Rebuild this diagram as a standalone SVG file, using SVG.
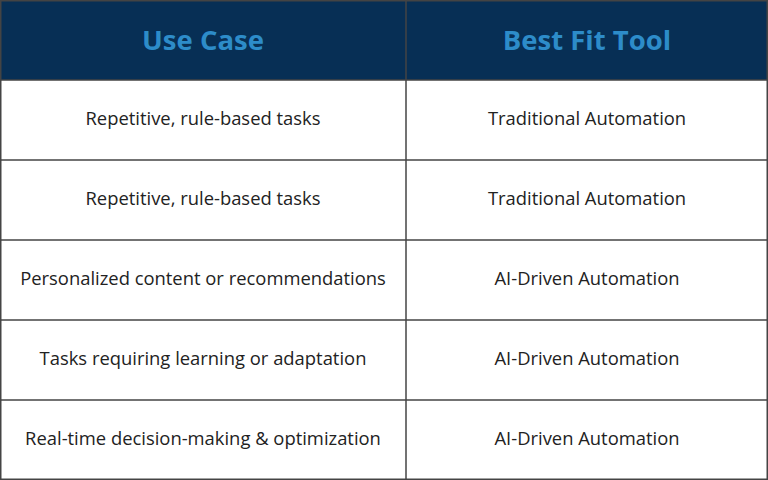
<svg xmlns="http://www.w3.org/2000/svg" width="768" height="480" viewBox="0 0 768 480">
<style>
.h{font-family:"Open Sans","Liberation Sans",sans-serif;font-size:27.5px;font-weight:bold;fill:#2d8cc9;text-anchor:middle}
.t{font-family:"Open Sans","Liberation Sans",sans-serif;font-size:18.4px;fill:#222;text-anchor:middle}
.l{stroke:#444;stroke-width:1.5}
</style>
<rect width="768" height="480" fill="#fff"/>
<rect width="768" height="80" fill="#072f55"/>
<g id="header"><text class="h" x="203" y="50">Use Case</text><text class="h" x="587" y="50">Best Fit Tool</text></g>
<g id="connectors">
<line class="l" x1="0" y1="80" x2="768" y2="80"/>
<line class="l" x1="0" y1="160" x2="768" y2="160"/>
<line class="l" x1="0" y1="240" x2="768" y2="240"/>
<line class="l" x1="0" y1="320" x2="768" y2="320"/>
<line class="l" x1="0" y1="400" x2="768" y2="400"/>
<line class="l" x1="406" y1="0" x2="406" y2="480"/>
<rect x="0.75" y="0.75" width="766.5" height="478.5" fill="none" stroke="#444" stroke-width="1.5"/>
</g>
<g id="row1"><text class="t" x="203" y="125">Repetitive, rule-based tasks</text><text class="t" x="587" y="125">Traditional Automation</text></g>
<g id="row2"><text class="t" x="203" y="205">Repetitive, rule-based tasks</text><text class="t" x="587" y="205">Traditional Automation</text></g>
<g id="row3"><text class="t" x="203" y="285">Personalized content or recommendations</text><text class="t" x="587" y="285">AI-Driven Automation</text></g>
<g id="row4"><text class="t" x="203" y="365">Tasks requiring learning or adaptation</text><text class="t" x="587" y="365">AI-Driven Automation</text></g>
<g id="row5"><text class="t" x="203" y="445">Real-time decision-making &amp; optimization</text><text class="t" x="587" y="445">AI-Driven Automation</text></g>
</svg>
